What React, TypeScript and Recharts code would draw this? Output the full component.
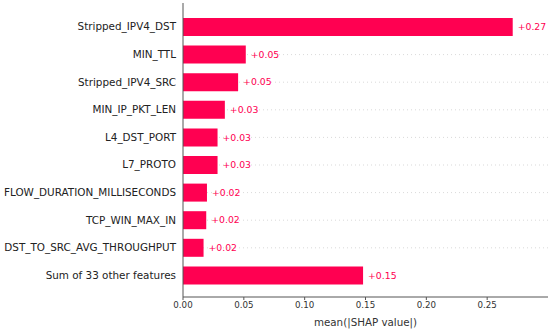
import React from "react";
import { BarChart, Bar, XAxis, YAxis, LabelList } from "recharts";

const features = [
  "Stripped_IPV4_DST",
  "MIN_TTL",
  "Stripped_IPV4_SRC",
  "MIN_IP_PKT_LEN",
  "L4_DST_PORT",
  "L7_PROTO",
  "FLOW_DURATION_MILLISECONDS",
  "TCP_WIN_MAX_IN",
  "DST_TO_SRC_AVG_THROUGHPUT",
  "Sum of 33 other features",
];
const shapValues = [0.271, 0.0516, 0.0453, 0.0344, 0.0284, 0.0284, 0.0197, 0.0191, 0.0169, 0.148];
const xTicks = [0, 0.05, 0.1, 0.15, 0.2, 0.25];

const data = features.map((name, i) => ({ name, value: shapValues[i] }));
const RED = "#ff0051";
const FONT = "DejaVu Sans, sans-serif";

const ValueLabel = (props: any) => {
  const { x, y, width, height, value } = props;
  return (
    <text
      x={Number(x) + Number(width) + 5}
      y={Number(y) + Number(height) / 2}
      dy="0.35em"
      fill={RED}
      fontSize={9.3}
      fontFamily={FONT}
      textAnchor="start"
    >
      {"+" + Number(value).toFixed(2)}
    </text>
  );
};

const DottedRow = (props: any) => {
  const { x, y, width, height, index } = props;
  if (index === 0 || index === features.length - 1) return <g />;
  const cy = Number(y) + Number(height) / 2;
  return (
    <line
      x1={x}
      x2={Number(x) + Number(width)}
      y1={cy}
      y2={cy}
      stroke="#cfcfcf"
      strokeWidth={0.8}
      strokeDasharray="1 3"
    />
  );
};

export default function App() {
  return (
    <div style={{ position: "absolute", left: 0, top: 0, background: "#fff" }}>
      <BarChart
        width={550}
        height={329}
        data={data}
        layout="vertical"
        margin={{ top: 3, right: 2, bottom: 0, left: 0 }}
      >
        <XAxis
          type="number"
          domain={[0, 0.3]}
          ticks={xTicks}
          allowDataOverflow
          tickFormatter={(v: number) => v.toFixed(2)}
          height={32}
          tickSize={3}
          tickMargin={2}
          stroke="#555"
          tick={{ fontSize: 8.7, fill: "#333", fontFamily: FONT }}
          label={{
            value: "mean(|SHAP value|)",
            position: "insideBottom",
            offset: 3,
            fontSize: 10.3,
            fill: "#333",
            fontFamily: FONT,
          }}
        />
        <YAxis
          type="category"
          dataKey="name"
          width={183}
          padding={{ top: 10, bottom: 8 }}
          tickLine={false}
          tickSize={0}
          tickMargin={7}
          stroke="#555"
          interval={0}
          tick={{ fontSize: 10.4, fill: "#222", fontFamily: FONT }}
        />
        <Bar
          dataKey="value"
          fill={RED}
          barSize={18}
          background={DottedRow}
          isAnimationActive={false}
        >
          <LabelList dataKey="value" content={ValueLabel} />
        </Bar>
      </BarChart>
    </div>
  );
}
